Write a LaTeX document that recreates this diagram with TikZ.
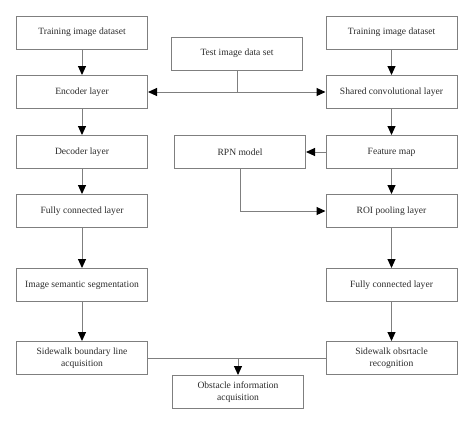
\documentclass[tikz,border=0pt]{standalone}
\usepackage{fontspec}
\setmainfont{Liberation Serif}
\usepackage{xcolor}
\usetikzlibrary{arrows.meta}
\definecolor{linegray}{HTML}{7F7F7F}
\definecolor{textgray}{HTML}{2B2B2B}

\begin{document}
\begin{tikzpicture}[x=1bp, y=-1bp, >={Triangle[length=9bp, width=8bp, color=black]},
    box/.style={draw=linegray, line width=1bp, minimum width=131bp, minimum height=33bp,
        align=center, text=textgray, font=\fontsize{9.6}{11.5}\selectfont},
    link/.style={draw=linegray, line width=1bp}]
    \useasboundingbox (0,0) rectangle (474,425);

    % Left column (segmentation)
    \foreach \name/\y/\txt in {tl/32.5/Training image dataset, enc/92/Encoder layer,
        dec/152/Decoder layer, fcl/211/Fully connected layer,
        seg/285/Image semantic segmentation, bound/358/Sidewalk boundary line\\acquisition} {
        \node[box] (\name) at (82, \y) {\txt};
    }

    % Right column (detection)
    \foreach \name/\y/\txt in {tr/32.5/Training image dataset, shared/92/Shared convolutional layer,
        feat/152/Feature map, roi/211/ROI pooling layer,
        fcr/285/Fully connected layer, recog/358/Sidewalk obsrtacle\\recognition} {
        \node[box] (\name) at (391.5, \y) {\txt};
    }

    % Middle boxes
    \node[box] (test) at (237, 53.5) {Test image data set};
    \node[box] (rpn) at (240, 152) {RPN model};
    \node[box] (obst) at (238, 392) {Obstacle information\\acquisition};

    % Column arrows
    \foreach \a/\b in {tl/enc, enc/dec, dec/fcl, fcl/seg, seg/bound,
        tr/shared, shared/feat, feat/roi, roi/fcr, fcr/recog} {
        \draw[link, ->] (\a) -- (\b);
    }

    % Test set to both branches
    \draw[link, ->] (test.south) |- (enc.east);
    \draw[link, ->] (test.south) |- (shared.west);

    % RPN branch
    \draw[link, ->] (feat) -- (rpn);
    \draw[link, ->] (rpn.south) |- (roi.west);

    % Merge
    \draw[link] (bound) -- (recog);
    \coordinate (join) at (obst.north |- bound.east);
    \draw[link, ->] (join) -- (obst.north);
\end{tikzpicture}
\end{document}
